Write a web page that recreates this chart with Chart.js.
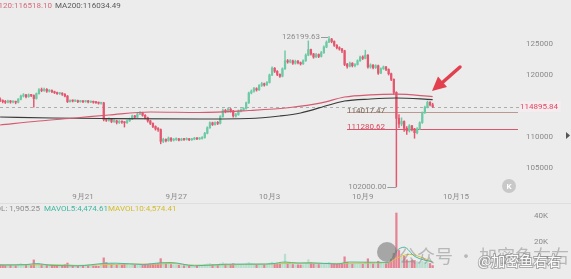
<!DOCTYPE html>
<html>
<head>
<meta charset="utf-8">
<script src="https://cdn.jsdelivr.net/npm/chart.js@4.4.1/dist/chart.umd.min.js"></script>
<style>
  html, body { margin: 0; padding: 0; background: #ececec; }
  #wrap { position: relative; width: 571px; height: 279px; overflow: hidden; background: #ececec; }
  #price { position: absolute; left: 0; top: 0; }
  #vol { position: absolute; left: 0; top: 204px; }
  .sep { position: absolute; left: 0; top: 203px; width: 571px; height: 1px; background: #dedede; }
</style>
</head>
<body>
<div id="wrap">
  <canvas id="price" width="571" height="203"></canvas>
  <div class="sep"></div>
  <canvas id="vol" width="571" height="75"></canvas>
</div>
<script>
// 4h candles, x in days from Sep 15 00:00
const DAY0 = 0.667;
const firstOpen = 116100;
const closes = [
  115900,115700,115600,115800,115650,115700,115600,116100,116600,116800,
  116500,116800,116700,116200,117000,117600,117500,117700,117400,117500,
  117300,117150,117000,117050,116900,116600,115700,115900,115800,115850,
  115700,115750,115700,115800,115650,115700,115600,115550,115450,115500,
  112800,112700,112900,112500,112600,112350,112500,112400,112300,112600,
  112900,113400,113200,113700,113900,113500,113100,112600,112200,111700,
  111300,111200,109300,109600,109400,109800,109500,109600,109700,109500,
  109650,109600,109700,109550,109650,109800,109700,109750,109900,110600,
  111500,112300,112000,112300,112200,113300,114300,114100,114500,114200,
  113400,113600,114200,114400,114600,115500,117100,117400,117800,117600,
  118300,118600,118400,118800,120000,121100,120600,120100,119800,121000,
  122300,122100,122300,121900,122200,122000,121800,122300,123200,124100,
  123400,122900,123300,123000,123600,124500,125300,125800,125400,124800,
  124400,124200,123900,121700,121400,121900,121500,121700,122300,122900,
  122700,123200,121300,121600,121200,121500,120300,121000,121300,120900,
  120200,119300,117200,113000,112100,112500,111400,111000,111800,111300,
  110700,111300,112300,113900,114800,115600,115200,114895.84
];
const highs = [
  116300,116000,115900,115950,115900,115850,115800,116200,116750,117000,
  116900,116950,116900,116800,117100,117800,117900,117900,117800,117650,
  117600,117400,117250,117200,117150,117000,116700,116000,116000,116000,
  115950,115900,115850,115900,115900,115800,115800,115700,115650,115600,
  115600,113000,113100,113000,112800,112700,112650,112600,112500,112750,
  113050,113550,113500,113850,114100,114000,113600,113200,112700,112300,
  111800,111500,111300,109800,109700,110000,109900,109750,109850,109800,
  109800,109750,109850,109800,109800,109950,109900,109900,110050,110750,
  111650,112450,112400,112450,112500,113450,114500,114450,114700,114600,
  114300,113800,114350,114550,114750,115650,117250,117600,118000,117950,
  118450,118800,118700,118950,120150,121300,121200,120700,120200,121150,
  123900,122500,122500,122400,122400,122350,122100,122450,123400,125500,
  124200,123500,123500,123400,123800,124700,125500,126199.63,125900,125500,
  124900,124550,124300,124000,121900,122100,122000,121850,122450,123050,
  123100,124000,123300,121800,121700,121650,121600,121150,121450,121400,
  121000,120300,119400,117300,113600,113100,112600,111700,112000,111900,
  111400,111500,112450,114050,115000,115800,115700,115450
];
const lows = [
  115700,115500,115400,115500,115450,115500,115350,115500,116000,116450,
  116300,116400,116500,114800,116100,116900,117300,117350,117200,117250,
  117150,117000,116850,116850,116700,116450,115550,115600,115650,115700,
  115550,115600,115550,115600,115500,115550,115450,115400,115300,115300,
  112600,112500,112550,112300,112350,112100,112200,112200,111600,112200,
  112500,112800,113000,113100,113600,113350,112900,112400,112000,111500,
  111100,110900,108900,109100,109200,109300,109300,109350,109450,109350,
  109400,109450,109500,109400,109450,109550,109550,109600,109650,109800,
  110500,111400,111850,111900,112000,112100,113200,113900,114000,114000,
  113200,113200,113500,114050,114300,114500,115400,116950,117250,117400,
  117500,118150,118200,118300,118700,119900,120400,119900,119600,119700,
  120900,121900,121950,121700,121750,121800,121600,121700,122200,123100,
  123200,122700,122800,122800,122900,123500,124400,125200,125200,124600,
  124200,124000,123600,121500,121100,121300,121300,121300,121600,122200,
  122500,122600,121100,121100,121000,121050,120100,120200,120900,120700,
  120000,119100,116900,102000,111500,111800,110900,110400,110800,111000,
  109800,110500,111200,112200,113800,114700,115000,114750
];
const volumes = [
  2600,2200,1900,2400,2100,2000,1800,2900,3300,2700,
  2300,2500,2000,6200,3600,3400,2500,2300,2000,1900,
  2100,1800,1700,1900,2000,2600,3800,2400,1900,1700,
  1600,1800,1500,1700,1600,1500,1700,1600,1400,2000,
  7800,4200,3100,3300,2800,2600,2900,2500,3400,2700,
  2400,3000,2500,2600,2800,2300,2600,2900,3200,3500,
  3300,3600,7200,4300,3400,3000,2700,2500,2600,2200,
  1900,1800,2000,1700,1600,1800,1500,1600,1900,2600,
  3100,3400,2500,2300,2200,3400,4100,3000,2700,2600,
  3300,2600,2400,2300,2200,3100,4200,3500,3000,2700,
  3100,2900,2600,2800,3800,4400,3600,3300,3100,3000,
  10600,3800,3000,2700,2600,2500,2400,2600,3500,6400,
  3900,3200,2800,2700,2900,3400,3800,4300,3200,3000,
  2900,2800,3100,8600,4500,3300,3000,2900,3100,3400,
  3000,4100,7100,4000,3300,3100,5200,3600,3200,3400,
  4500,6800,11200,42300,13500,8200,9000,6300,5400,6100,
  5800,4900,4300,5100,4600,4200,3500,1905.25
];

// moving averages (candle index -> value)
const ma120Idx = [0, 15, 29, 42, 58, 77, 96, 112, 124, 133, 143, 153, 167];
const ma120 = [111935, 112580, 113064, 113548, 114032, 113950, 114274, 114758, 115500, 116450, 116800, 116900, 116518.10];
const ma200Idx = [0, 20, 40, 77, 96, 108, 116, 127, 133, 143, 153, 167];
const ma200 = [113225, 113064, 112983, 112903, 112983, 113387, 113870, 115161, 115806, 116129, 116290, 116034.49];
const mavol5Idx = [0,10,14,20,30,40,45,55,62,66,75,85,90,100,105,110,115,120,130,135,145,150,153,156,160,167];
const mavol5 = [2300,2600,3400,2000,1700,3500,3700,2700,4000,4200,1700,2700,3000,3000,3300,4600,3800,4000,3100,4600,4400,4300,13000,16000,9000,4474.61];
const mavol10Idx = [0,10,20,30,40,50,60,66,75,85,95,105,115,125,135,145,150,153,158,163,167];
const mavol10 = [2400,2400,2600,2000,2600,3100,2900,3500,2200,2300,2800,3100,3700,3500,3600,3800,4200,7400,10500,8000,4574.41];

const dateTicks = [6, 12, 18, 24, 30];
const dateLabels = ['9月21', '9月27', '10月3', '10月9', '10月15'];
const priceTicks = [125000, 120000, 110000, 105000];
const volTicks = [40000, 20000];
const volTickLabels = ['40K', '20K'];

const lastPrice = 114895.84;
const levelA = 114017.47;
const levelB = 111280.62;
const athIdx = 127, lowIdx = 153;
const lastVol = 1905.25;

const C_UP = '#6ccaa5', C_DOWN = '#e3566e';
const FONT = '8px Roboto';
const X_MIN = 6 - 83 / 15.54, X_MAX = 6 + 488 / 15.54;

const dayOf = i => DAY0 + i / 6;
const opens = closes.map((c, i) => i === 0 ? firstOpen : closes[i - 1]);
const candleColor = closes.map((c, i) => c >= opens[i] ? C_UP : C_DOWN);
const volColor = closes.map((c, i) => c >= opens[i] ? 'rgba(108,202,165,0.4)' : 'rgba(227,86,110,0.7)');
const fmt = v => v.toLocaleString('en-US', { minimumFractionDigits: 2, maximumFractionDigits: 2 });

const baseOpts = {
  responsive: false,
  animation: false,
  devicePixelRatio: 1,
  events: [],
  plugins: { legend: { display: false }, tooltip: { enabled: false } }
};

function txt(ctx, s, x, y, color, align, font) {
  ctx.font = font || FONT;
  ctx.fillStyle = color;
  ctx.textAlign = align || 'left';
  ctx.textBaseline = 'middle';
  ctx.fillText(s, x, y);
}

const priceOverlay = {
  id: 'priceOverlay',
  beforeDatasetsDraw(chart) {
    const { ctx, scales: { y } } = chart;
    ctx.save();
    const yl = Math.round(y.getPixelForValue(lastPrice)) + 0.5;
    ctx.strokeStyle = '#adadad';
    ctx.lineWidth = 1;
    ctx.setLineDash([3, 3]);
    ctx.beginPath(); ctx.moveTo(0, yl); ctx.lineTo(519, yl); ctx.stroke();
    ctx.setLineDash([]);
    const ya = Math.round(y.getPixelForValue(levelA)) + 0.5;
    ctx.strokeStyle = 'rgba(170,125,115,0.75)';
    ctx.beginPath(); ctx.moveTo(347, ya); ctx.lineTo(518, ya); ctx.stroke();
    const yb = Math.round(y.getPixelForValue(levelB)) + 0.5;
    ctx.strokeStyle = '#d9566c';
    ctx.beginPath(); ctx.moveTo(347, yb); ctx.lineTo(518, yb); ctx.stroke();
    ctx.restore();
  },
  afterDraw(chart) {
    const { ctx, scales: { x, y } } = chart;
    ctx.save();
    // top legend
    txt(ctx, 'MA120:' + ma120[ma120.length - 1].toFixed(2), 52, 6, '#d56b7c', 'right');
    txt(ctx, 'MA200:' + ma200[ma200.length - 1].toFixed(2), 55, 6, '#5a5a5a', 'left');
    // right price labels
    priceTicks.forEach(v => txt(ctx, String(v), 553, y.getPixelForValue(v), '#8a8a8a', 'right'));
    const yl = y.getPixelForValue(lastPrice);
    ctx.fillStyle = 'rgba(245,236,238,0.9)';
    ctx.fillRect(520, yl - 5.5, 41, 11);
    txt(ctx, lastPrice.toFixed(2), 558, yl, '#e0475f', 'right');
    // date labels
    dateTicks.forEach((d, k) => txt(ctx, dateLabels[k], x.getPixelForValue(d), 197, '#8a8a8a', 'center'));
    // level labels
    ctx.font = FONT; ctx.textAlign = 'left'; ctx.textBaseline = 'alphabetic';
    ctx.fillStyle = '#7a6352';
    ctx.fillText(levelA.toFixed(2), 347, Math.round(y.getPixelForValue(levelA)) + 0.5);
    ctx.fillStyle = '#d9465e';
    ctx.fillText(levelB.toFixed(2), 347, Math.round(y.getPixelForValue(levelB)) - 0.5);
    // high / low markers
    const hx = x.getPixelForValue(dayOf(athIdx)), hy = y.getPixelForValue(highs[athIdx]);
    txt(ctx, highs[athIdx].toFixed(2), hx - 9, hy, '#8c8c8c', 'right');
    const lx = x.getPixelForValue(dayOf(lowIdx)), ly = y.getPixelForValue(lows[lowIdx]);
    txt(ctx, lows[lowIdx].toFixed(2), lx - 10, ly, '#8c8c8c', 'right');
    ctx.strokeStyle = '#9a9a9a'; ctx.lineWidth = 1;
    ctx.beginPath();
    ctx.moveTo(hx - 8, Math.round(hy) + 0.5); ctx.lineTo(hx - 1, Math.round(hy) + 0.5);
    ctx.moveTo(lx - 9, Math.round(ly) + 0.5); ctx.lineTo(lx, Math.round(ly) + 0.5);
    ctx.stroke();
    // red arrow
    ctx.fillStyle = '#e2404e'; ctx.strokeStyle = '#e2404e';
    ctx.lineWidth = 3.5; ctx.lineCap = 'round';
    ctx.beginPath(); ctx.moveTo(460, 67); ctx.lineTo(443, 82); ctx.stroke();
    ctx.beginPath(); ctx.moveTo(432, 91); ctx.lineTo(447, 87); ctx.lineTo(438, 76.5); ctx.closePath(); ctx.fill();
    // K button and side arrow
    ctx.fillStyle = '#c8c8c8';
    ctx.beginPath(); ctx.arc(509, 186, 7, 0, Math.PI * 2); ctx.fill();
    txt(ctx, 'K', 509, 186.5, '#ffffff', 'center', 'bold 8px Roboto');
    ctx.fillStyle = '#555';
    ctx.beginPath(); ctx.moveTo(566, 132); ctx.lineTo(570, 135.5); ctx.lineTo(566, 139); ctx.closePath(); ctx.fill();
    ctx.restore();
  }
};

new Chart(document.getElementById('price'), {
  type: 'bar',
  data: {
    datasets: [
      { type: 'line', data: ma120Idx.map((k, j) => ({ x: dayOf(k), y: ma120[j] })), borderColor: '#d65a70',
        borderWidth: 1.2, pointRadius: 0, cubicInterpolationMode: 'monotone', order: 0 },
      { type: 'line', data: ma200Idx.map((k, j) => ({ x: dayOf(k), y: ma200[j] })), borderColor: '#3a3a3a',
        borderWidth: 1.2, pointRadius: 0, cubicInterpolationMode: 'monotone', order: 0 },
      { data: closes.map((c, i) => ({ x: dayOf(i), y: [lows[i], highs[i]] })), backgroundColor: candleColor,
        barThickness: 0.8, grouped: false, order: 2 },
      { data: closes.map((c, i) => ({ x: dayOf(i), y: [opens[i], c] })), backgroundColor: candleColor,
        barThickness: 1.6, minBarLength: 1, grouped: false, order: 1 }
    ]
  },
  options: {
    ...baseOpts,
    layout: { padding: { bottom: 14 } },
    scales: {
      x: { type: 'linear', min: X_MIN, max: X_MAX, offset: false, display: false },
      y: { min: 101613, max: 132097, display: false }
    }
  },
  plugins: [priceOverlay]
});

const volOverlay = {
  id: 'volOverlay',
  afterDraw(chart) {
    const { ctx, scales: { y } } = chart;
    ctx.save();
    txt(ctx, 'VOL: ' + fmt(lastVol), 40, 4.5, '#8a8a8a', 'right');
    txt(ctx, 'MAVOL5:' + fmt(mavol5[mavol5.length - 1]), 44, 4.5, '#3fb8a0', 'left');
    txt(ctx, 'MAVOL10:' + fmt(mavol10[mavol10.length - 1]), 108, 4.5, '#d2bd2c', 'left');
    volTicks.forEach((v, k) => txt(ctx, volTickLabels[k], 548, y.getPixelForValue(v), '#8a8a8a', 'right'));
    // watermark
    ctx.fillStyle = 'rgba(110,110,110,0.55)';
    ctx.beginPath(); ctx.arc(387, 48, 10, 0, Math.PI * 2); ctx.fill();
    txt(ctx, '公众号 · 加密鱼右右', 399, 52, 'rgba(140,140,140,0.55)', 'left', '18px "Noto Sans CJK SC"');
    ctx.font = '14px "Noto Sans CJK SC"'; ctx.textAlign = 'left'; ctx.textBaseline = 'middle';
    ctx.lineWidth = 2; ctx.strokeStyle = 'rgba(120,120,120,0.55)';
    ctx.strokeText('@加密鱼右右', 478, 57);
    ctx.fillStyle = 'rgba(255,255,255,0.95)';
    ctx.fillText('@加密鱼右右', 478, 57);
    ctx.restore();
  }
};

new Chart(document.getElementById('vol'), {
  type: 'bar',
  data: {
    datasets: [
      { type: 'line', data: mavol5Idx.map((k, j) => ({ x: dayOf(k), y: mavol5[j] })), borderColor: '#46b9a4',
        borderWidth: 1, pointRadius: 0, cubicInterpolationMode: 'monotone', order: 0 },
      { type: 'line', data: mavol10Idx.map((k, j) => ({ x: dayOf(k), y: mavol10[j] })), borderColor: '#d6c23c',
        borderWidth: 1, pointRadius: 0, cubicInterpolationMode: 'monotone', order: 0 },
      { data: volumes.map((v, i) => ({ x: dayOf(i), y: v })), backgroundColor: volColor,
        barThickness: 1.6, grouped: false, order: 1 }
    ]
  },
  options: {
    ...baseOpts,
    layout: { padding: { bottom: 11 } },
    scales: {
      x: { type: 'linear', min: X_MIN, max: X_MAX, offset: false, display: false },
      y: { min: 0, max: 49231, display: false }
    }
  },
  plugins: [volOverlay]
});
</script>
</body>
</html>
